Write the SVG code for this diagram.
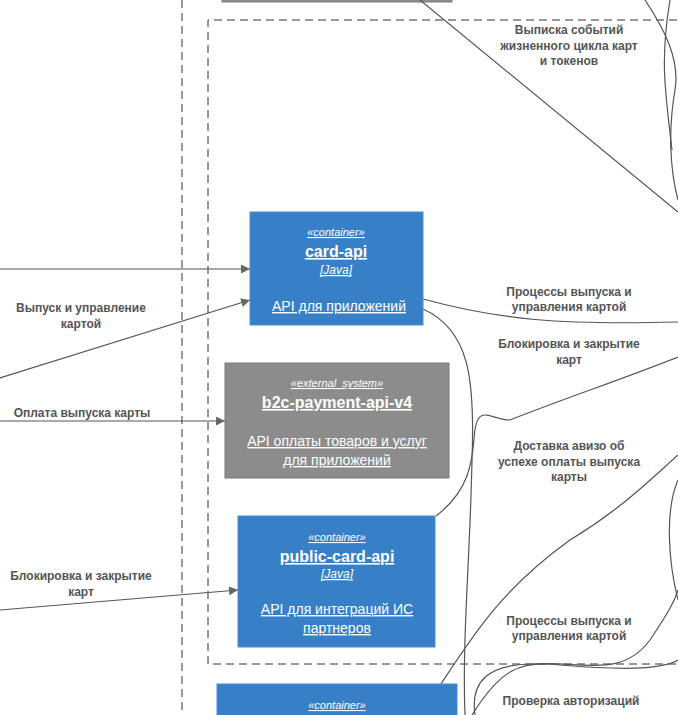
<svg xmlns="http://www.w3.org/2000/svg" width="678" height="715" viewBox="0 0 678 715">
<defs>
<marker id="a" viewBox="0 0 10 10" refX="10" refY="5" markerWidth="9" markerHeight="9" orient="auto" markerUnits="userSpaceOnUse"><path d="M0,0L10,5L0,10z" fill="#666"/></marker>
<style>
.b{fill:#3780c8;stroke:#4a90d0}
.g{fill:#8c8c8c;stroke:#7a7a7a}
text{font-family:"Liberation Sans",Arial,sans-serif;text-anchor:middle;fill:#fff;text-decoration:underline}
.s{font-size:11px;font-style:italic}
.t{font-size:16px;font-weight:bold}
.j{font-size:12px;font-style:italic}
.d{font-size:14px}
.l{fill:#555;font-size:12px;font-weight:bold;text-decoration:none}
.c{fill:none;stroke:#555;stroke-width:1.2}
.bd{fill:none;stroke:#333;stroke-dasharray:8,5}
</style>
</defs>
<rect width="678" height="715" fill="#fff"/>
<line class="bd" x1="182" y1="0" x2="182" y2="715"/>
<path class="bd" d="M690,20H208V664H690"/>
<g id="top-node"><rect class="g" x="222" y="-20" width="230" height="22"/></g>
<g id="connectors">
<path class="c" d="M0,269H250" marker-end="url(#a)"/>
<path class="c" d="M0,378L250,300" marker-end="url(#a)"/>
<path class="c" d="M0,421H225" marker-end="url(#a)"/>
<path class="c" d="M0,610L238,590" marker-end="url(#a)"/>
<path class="c" d="M420,0L678,212"/>
<path class="c" d="M423,299C500,320 560,325 678,322"/>
<path class="c" d="M423,309C470,330 475,380 472,460C470,560 462,640 465,715"/>
<path class="c" d="M436,516C470,490 472,460 474,440C476,400 490,420 510,420C560,400 620,380 678,357"/>
<path class="c" d="M441,684C470,640 500,590 570,540C620,510 650,480 678,455"/>
<path class="c" d="M475,715C470,680 490,665 530,664C580,660 620,680 650,640C670,610 675,600 678,590"/>
<path class="c" d="M472,715C500,670 520,660 560,665C620,670 660,670 678,660"/>
<path class="c" d="M645,0C665,30 680,60 675,90C668,130 670,170 678,200"/>
<path class="c" d="M670,0C660,60 665,90 672,150"/>
<path class="c" d="M678,480C665,510 668,560 678,600"/>
</g>
<g id="card-api"><rect class="b" x="250" y="212" width="173" height="113"/>
<text class="s" x="336" y="236">«container»</text><text class="t" x="336" y="257">card-api</text><text class="j" x="336" y="274">[Java]</text><text class="d" x="339" y="311">API для приложений</text></g>
<g id="b2c-payment-api-v4"><rect class="g" x="225" y="363" width="224" height="115"/>
<text class="s" x="337" y="387">«external_system»</text><text class="t" x="337" y="408">b2c-payment-api-v4</text><text class="d" x="337" y="446">API оплаты товаров и услуг</text><text class="d" x="337" y="465">для приложений</text></g>
<g id="public-card-api"><rect class="b" x="238" y="516" width="197" height="131"/>
<text class="s" x="337" y="541">«container»</text><text class="t" x="337" y="562">public-card-api</text><text class="j" x="337" y="578">[Java]</text><text class="d" x="337" y="614">API для интеграций ИС</text><text class="d" x="337" y="633">партнеров</text></g>
<g id="bottom-container"><rect class="b" x="217" y="684" width="240" height="40"/>
<text class="s" x="337" y="709">«container»</text></g>
<g id="labels">
<text class="l" x="569" y="34">Выписка событий</text><text class="l" x="569" y="50">жизненного цикла карт</text><text class="l" x="569" y="65">и токенов</text>
<text class="l" x="569" y="296">Процессы выпуска и</text><text class="l" x="569" y="311">управления картой</text>
<text class="l" x="569" y="348">Блокировка и закрытие</text><text class="l" x="569" y="364">карт</text>
<text class="l" x="569" y="450">Доставка авизо об</text><text class="l" x="569" y="466">успехе оплаты выпуска</text><text class="l" x="569" y="481">карты</text>
<text class="l" x="569" y="625">Процессы выпуска и</text><text class="l" x="569" y="640">управления картой</text>
<text class="l" x="571" y="705">Проверка авторизаций</text>
<text class="l" x="81" y="312">Выпуск и управление</text><text class="l" x="81" y="328">картой</text>
<text class="l" x="82" y="417">Оплата выпуска карты</text>
<text class="l" x="81" y="580">Блокировка и закрытие</text><text class="l" x="81" y="596">карт</text>
</g>
</svg>
